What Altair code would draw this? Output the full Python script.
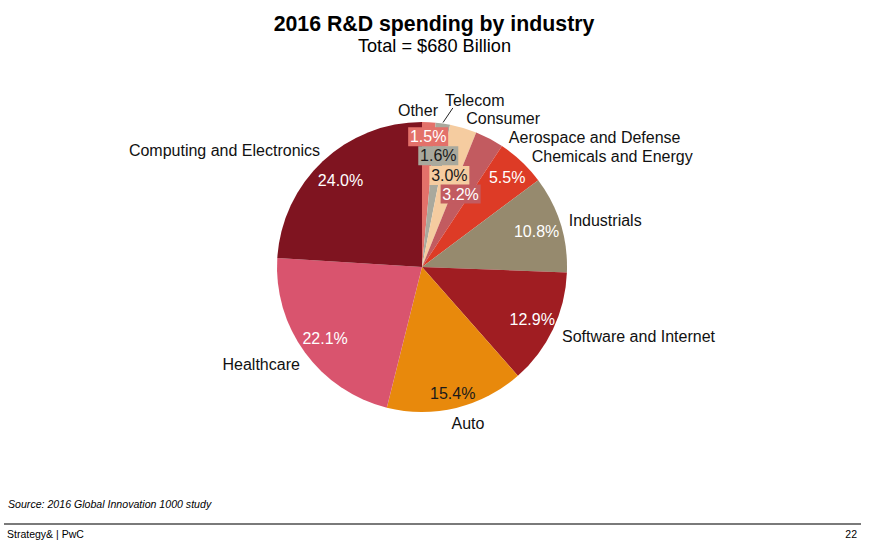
import altair as alt
import numpy as np
import pandas as pd

# ---- data ----
industries = ["Other", "Telecom", "Consumer", "Aerospace and Defense",
              "Chemicals and Energy", "Industrials", "Software and Internet",
              "Auto", "Healthcare", "Computing and Electronics"]
shares = [1.5, 1.6, 3.0, 3.2, 5.5, 10.8, 12.9, 15.4, 22.1, 24.0]
pct_labels = ["1.5%", "1.6%", "3.0%", "3.2%", "5.5%", "10.8%", "12.9%",
              "15.4%", "22.1%", "24.0%"]

title_text = "2016 R&D spending by industry"
subtitle_text = "Total = $680 Billion"
source_text = "Source: 2016 Global Innovation 1000 study"
footer_left = "Strategy& | PwC"
footer_right = "22"

# ---- style ----
colors = ["#E3716A", "#A9A99D", "#F5CCA0", "#C25B60", "#DD3B26",
          "#968A6E", "#A01D22", "#E8890C", "#D9546E", "#7F1420"]
pct_color = ["white", "#1a1a1a", "#1a1a1a", "white", "white", "white",
             "white", "#1a1a1a", "white", "white"]
boxed = [True, True, True, True, False, False, False, False, False, False]
# inner label radius (px) and outer label placement (radius, angle nudge deg, align)
pct_radius = [131, 113, 96, 83, 124, 120, 122, 130, 120, 119]
name_radius = [158, 169, 155, 156, 156, 154, 156, 163, 156, 155]
name_nudge = [3.1, -0.5, 0.0, 6.1, 1.3, -0.4, 0.8, -2.7, -2.3, 2.1]
name_align = ["right", "left", "left", "left", "left", "left", "left",
              "center", "right", "right"]

CX, CY, R = 422, 267, 145
FONT = "Liberation Sans"

df = pd.DataFrame({"industry": industries, "share": shares,
                   "pct": pct_labels, "idx": range(len(industries))})
cum = np.cumsum(shares)
mid_deg = (cum - np.array(shares) / 2.0) * 3.6

def polar(r, deg):
    a = np.radians(deg)
    return CX + r * np.sin(a), CY - r * np.cos(a)

px, py = polar(np.array(pct_radius), mid_deg)
df["px"], df["py"] = px, py
df["pcol"] = pct_color
df["boxed"] = boxed
nx, ny = polar(np.array(name_radius), mid_deg + np.array(name_nudge))
df["nx"], df["ny"] = nx, ny
df["nalign"] = name_align

BW, BH = 40, 19
df["bx"], df["bx2"] = df["px"] - BW / 2, df["px"] + BW / 2
df["by"], df["by2"] = df["py"] - BH / 2 + 0.5, df["py"] + BH / 2 + 0.5

base = alt.Chart(df)

pie = base.mark_arc(outerRadius=R).encode(
    theta=alt.Theta("share:Q", stack=True),
    color=alt.Color("industry:N", scale=alt.Scale(domain=industries, range=colors), legend=None),
    order=alt.Order("idx:Q"),
    x=alt.value(CX), y=alt.value(CY),
)

boxes = base.transform_filter("datum.boxed").mark_rect().encode(
    x=alt.X("bx:Q", scale=None), x2="bx2:Q",
    y=alt.Y("by:Q", scale=None), y2="by2:Q",
    color=alt.Color("industry:N", scale=alt.Scale(domain=industries, range=colors), legend=None),
)

pct = base.mark_text(font=FONT, fontSize=16, baseline="middle", align="center", dy=1).encode(
    x=alt.X("px:Q", scale=None), y=alt.Y("py:Q", scale=None),
    text="pct:N", color=alt.Color("pcol:N", scale=None),
)

def names(al):
    return base.transform_filter(alt.datum.nalign == al).mark_text(
        font=FONT, fontSize=16, baseline="middle", align=al, color="#111111", dy=1
    ).encode(x=alt.X("nx:Q", scale=None), y=alt.Y("ny:Q", scale=None), text="industry:N")

# leader line for Telecom
t_idx = industries.index("Telecom")
lx1, ly1 = polar(R + 1, mid_deg[t_idx])
lx2, ly2 = polar(162, mid_deg[t_idx] + 2.7)
leader = alt.Chart(pd.DataFrame({"x": [lx1], "y": [ly1], "x2": [lx2], "y2": [ly2]})).mark_rule(
    color="#222222", strokeWidth=1).encode(
    x=alt.X("x:Q", scale=None), y=alt.Y("y:Q", scale=None), x2="x2:Q", y2="y2:Q")

def txt(s, x, y, size, align="left", weight="normal", style="normal"):
    return alt.Chart(pd.DataFrame({"t": [s]})).mark_text(
        font=FONT, fontSize=size, align=align, baseline="alphabetic",
        fontWeight=weight, fontStyle=style, color="black"
    ).encode(x=alt.value(x), y=alt.value(y), text="t:N")

title = txt(title_text, 434, 31, 21.3, align="center", weight="bold")
subtitle = txt(subtitle_text, 434.5, 52, 18.2, align="center")
source = txt(source_text, 8, 508, 10.6, style="italic")
fl = txt(footer_left, 7, 538, 10.5)
fr = txt(footer_right, 857, 538, 10.5, align="right")
rule = alt.Chart(pd.DataFrame({"a": [0]})).mark_rule(color="#7a7a7a", strokeWidth=2).encode(
    x=alt.value(4), x2=alt.value(861), y=alt.value(524))

chart = alt.layer(
    pie, boxes, pct, names("left"), names("right"), names("center"), leader,
    title, subtitle, source, rule, fl, fr
).properties(
    width=870, height=548, autosize=alt.AutoSizeParams(type="none"),
    padding=0, background="white"
).configure_view(stroke=None)

chart.save("out.html", embed_options={"renderer": "svg", "actions": False})
